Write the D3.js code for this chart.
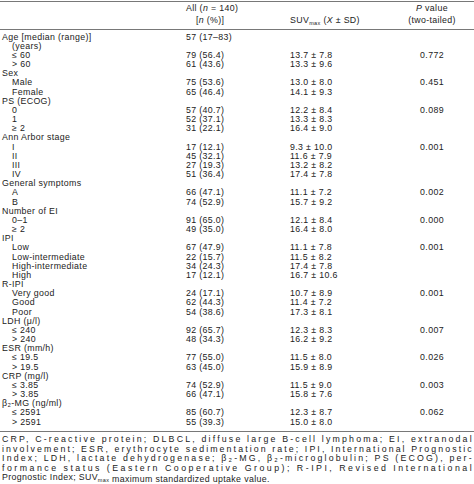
<!DOCTYPE html>
<html><head><meta charset="utf-8">
<script src="https://cdn.jsdelivr.net/npm/d3@7"></script>
<style>body{margin:0;background:#fff}text{font-family:"Liberation Sans",Arial,sans-serif;font-size:8.8px;letter-spacing:0.35px;fill:#222}</style>
</head><body><svg id="c" width="474" height="484"></svg>
<script>
// rows: [label, indent, n (%), SUVmax, P]
const labels = ["Age [median (range)]","(years)","≤ 60","> 60","Sex","Male","Female","PS (ECOG)","0","1","≥ 2",
  "Ann Arbor stage","I","II","III","IV","General symptoms","A","B","Number of EI","0–1","≥ 2",
  "IPI","Low","Low-intermediate","High-intermediate","High","R-IPI","Very good","Good","Poor",
  "LDH (μ/l)","≤ 240","> 240","ESR (mm/h)","≤ 19.5","> 19.5","CRP (mg/l)","≤ 3.85","> 3.85","β₂-MG (ng/ml)","≤ 2591","> 2591"];
const indent = [0,1,1,1,0,1,1,0,1,1,1,0,1,1,1,1,0,1,1,0,1,1,0,1,1,1,1,0,1,1,1,0,1,1,0,1,1,0,1,1,0,1,1];
const counts = ["57 (17–83)","","79 (56.4)","61 (43.6)","","75 (53.6)","65 (46.4)","","57 (40.7)","52 (37.1)","31 (22.1)",
  "","17 (12.1)","45 (32.1)","27 (19.3)","51 (36.4)","","66 (47.1)","74 (52.9)","","91 (65.0)","49 (35.0)",
  "","67 (47.9)","22 (15.7)","34 (24.3)","17 (12.1)","","24 (17.1)","62 (44.3)","54 (38.6)",
  "","92 (65.7)","48 (34.3)","","77 (55.0)","63 (45.0)","","74 (52.9)","66 (47.1)","","85 (60.7)","55 (39.3)"];
const suv = ["","","13.7 ± 7.8","13.3 ± 9.6","","13.0 ± 8.0","14.1 ± 9.3","","12.2 ± 8.4","13.3 ± 8.3","16.4 ± 9.0",
  "","9.3 ± 10.0","11.6 ± 7.9","13.2 ± 8.2","17.4 ± 7.8","","11.1 ± 7.2","15.7 ± 9.2","","12.1 ± 8.4","16.4 ± 8.0",
  "","11.1 ± 7.8","11.5 ± 8.2","17.4 ± 7.8","16.7 ± 10.6","","10.7 ± 8.9","11.4 ± 7.2","17.3 ± 8.1",
  "","12.3 ± 8.3","16.2 ± 9.2","","11.5 ± 8.0","15.9 ± 8.9","","11.5 ± 9.0","15.8 ± 7.6","","12.3 ± 8.7","15.0 ± 8.0"];
const pvals = ["","","0.772","","","0.451","","","0.089","","","","0.001","","","","","0.002","","","0.000","",
  "","0.001","","","","","0.001","","","","0.007","","","0.026","","","0.003","","","0.062",""];
const footnote = ["CRP, C-reactive protein; DLBCL, diffuse large B-cell lymphoma; EI, extranodal",
  "involvement; ESR, erythrocyte sedimentation rate; IPI, International Prognostic",
  "Index; LDH, lactate dehydrogenase; β₂-MG, β₂-microglobulin; PS (ECOG), per-",
  "formance status (Eastern Cooperative Group); R-IPI, Revised International",
  "Prognostic Index; SUV<sub>max</sub> maximum standardized uptake value."];

const svg = d3.select("#c");
const y = d3.scalePoint().domain(d3.range(labels.length)).range([39.5, 424.5]);
const rule = (yy) => svg.append("line").attr("x1",0).attr("x2",474).attr("y1",yy).attr("y2",yy).attr("stroke","#555").attr("stroke-width",0.8);
rule(1.5); rule(29.5); rule(431.5);

// header
const h = svg.append("g");
h.append("text").attr("x",186).attr("y",11).html('All (<tspan font-style="italic">n</tspan> = 140)');
h.append("text").attr("x",196).attr("y",23).html('[<tspan font-style="italic">n</tspan> (%)]');
h.append("text").attr("x",290).attr("y",23).html('SUV<tspan font-size="5.5px" dy="2">max</tspan><tspan dy="-2"> (</tspan><tspan font-style="italic">X</tspan> ± SD)');
h.append("text").attr("x",432).attr("y",11).attr("text-anchor","middle").html('<tspan font-style="italic">P</tspan> value');
h.append("text").attr("x",432).attr("y",23).attr("text-anchor","middle").text("(two-tailed)");

const rows = svg.append("g").selectAll("g").data(labels).join("g")
  .attr("transform",(d,i)=>`translate(0,${y(i)})`);
rows.append("text").attr("x",(d,i)=>indent[i]?12:2).text(d=>d);
rows.append("text").attr("x",186).text((d,i)=>counts[i]);
rows.append("text").attr("x",290).text((d,i)=>suv[i]);
rows.append("text").attr("x",432).attr("text-anchor","middle").text((d,i)=>pvals[i]);

footnote.forEach((t,i)=>{
  const el = svg.append("text").attr("x",2).attr("y",442+i*9.6).html(t.replace("<sub>",'<tspan font-size="5.5px" dy="2">').replace("</sub>",'</tspan><tspan dy="-2"></tspan>'));
  if(i<4) el.attr("textLength",470).attr("lengthAdjust","spacing");
});
</script></body></html>
